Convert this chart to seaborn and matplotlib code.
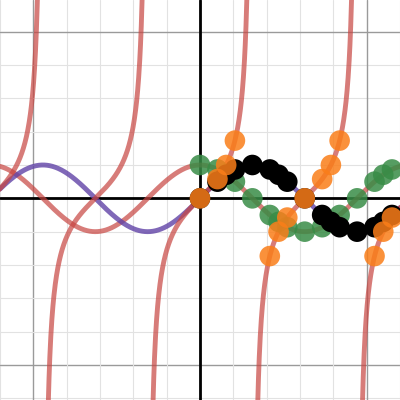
import matplotlib
matplotlib.use("Agg")
import matplotlib.pyplot as plt
import numpy as np
import pandas as pd
import seaborn as sns

# sample angles (unit-circle angles from 0 to 2*pi)
angles = np.pi * np.array([0, 1/6, 1/4, 1/3, 1/2, 2/3, 3/4, 5/6, 1,
                           7/6, 5/4, 4/3, 3/2, 5/3, 7/4, 11/6])
tan_angles = np.array([a for a in angles if abs(np.cos(a)) > 1e-9])

sns.set_style("white")
fig = plt.figure(figsize=(4, 4), dpi=100)
ax = fig.add_axes([0, 0, 1, 1])
ax.set_xlim(-6, 6)
ax.set_ylim(-6.05, 5.95)

# grid
for v in np.arange(-6, 7, 1):
    c, lw = ("#9a9a9a", 1.0) if v % 5 == 0 else ("#e2e2e2", 0.8)
    ax.axvline(v, color=c, lw=lw, zorder=0)
    ax.axhline(v, color=c, lw=lw, zorder=0)
ax.axvline(0, color="black", lw=2, zorder=1)
ax.axhline(0, color="black", lw=2, zorder=1)

red = "#c74440"
x = np.linspace(-6, 6, 1200)
sns.lineplot(x=x, y=np.cos(x), color=red, alpha=0.7, lw=3.5, ax=ax, zorder=2)
sns.lineplot(x=x, y=np.sin(x), color="#6042a6", alpha=0.8, lw=3.5, ax=ax, zorder=2)
for k in range(-3, 3):
    lo, hi = -np.pi / 2 + k * np.pi + 0.02, np.pi / 2 + k * np.pi - 0.02
    xb = np.linspace(max(lo, -6.2), min(hi, 6.2), 400)
    sns.lineplot(x=xb, y=np.tan(xb), color=red, alpha=0.7, lw=3.5, ax=ax, zorder=2)

sns.scatterplot(x=angles, y=np.cos(angles), color="#388c46", alpha=0.85, s=220,
                edgecolor="none", ax=ax, zorder=3)
sns.scatterplot(x=angles, y=np.sin(angles), color="black", s=220,
                edgecolor="none", ax=ax, zorder=4)
sns.scatterplot(x=tan_angles, y=np.tan(tan_angles), color="#fa7e19", alpha=0.85, s=220,
                edgecolor="none", ax=ax, zorder=5)

ax.set_xlim(-6, 6)
ax.set_ylim(-6.05, 5.95)
ax.set_xticks([])
ax.set_yticks([])
for s in ax.spines.values():
    s.set_visible(False)
fig.savefig("out.png", dpi=100)
